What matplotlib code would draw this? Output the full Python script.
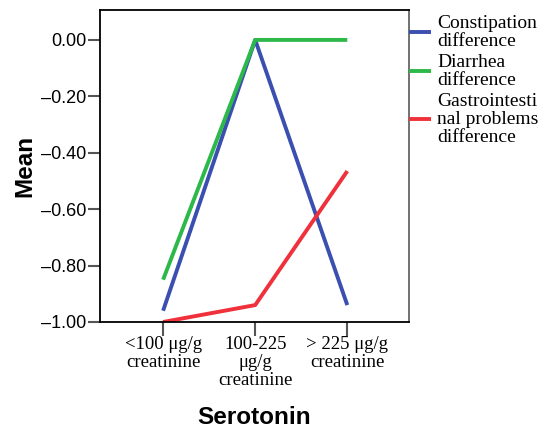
import matplotlib

matplotlib.use("Agg")
import matplotlib.pyplot as plt

categories = ["<100 \u03bcg/g\ncreatinine", "100-225\n\u03bcg/g\ncreatinine", "> 225 \u03bcg/g\ncreatinine"]
constipation = [-0.96, 0.0, -0.94]
diarrhea = [-0.85, 0.0, 0.0]
gi_problems = [-1.0, -0.94, -0.465]
series_names = ["Constipation\ndifference", "Diarrhea\ndifference", "Gastrointesti\nnal problems\ndifference"]
colors = ["#3a4fb0", "#2db84a", "#f0303a"]
yticks = [0.0, -0.2, -0.4, -0.6, -0.8, -1.0]

fig = plt.figure(figsize=(5.5, 4.38), dpi=100)
ax = fig.add_axes([100 / 550, 1 - 322 / 438, 309 / 550, 312 / 438])

x = range(len(categories))
for vals, name, c in zip([constipation, diarrhea, gi_problems], series_names, colors):
    ax.plot(x, vals, color=c, linewidth=2.8, label=name, solid_capstyle="butt")

ax.set_xlim(-0.685, 2.67)
ax.set_ylim(-1.0, 0.106)
ax.set_yticks(yticks)
ax.set_yticklabels([f"{v:.2f}".replace("-", "\u2013") for v in yticks],
                   family="Liberation Sans", fontsize=13)
ax.set_xticks(list(x))
ax.set_xticklabels(categories, family="Liberation Serif", fontsize=13.5, linespacing=1.08)
ax.tick_params(axis="y", length=9, width=1.5, color="#555555", pad=1)
ax.tick_params(axis="x", length=10, width=1.5, color="#555555", pad=0)
for side in ["left", "bottom", "top"]:
    ax.spines[side].set_linewidth(1.3)
ax.spines["right"].set_linewidth(1.3)
ax.spines["right"].set_color("#666666")

ax.set_ylabel("Mean", family="Liberation Sans", fontsize=17.5, fontweight="bold", labelpad=3)
ax.set_xlabel("Serotonin", family="Liberation Sans", fontsize=17.5, fontweight="bold", labelpad=12)

leg = ax.legend(loc="upper left", bbox_to_anchor=(1.0, 0.985), frameon=False,
                prop={"family": "Liberation Serif", "size": 14}, handlelength=1.15,
                handletextpad=0.3, labelspacing=0.2, borderaxespad=0, borderpad=0)
for t in leg.get_texts():
    t.set_linespacing(1.08)

fig.savefig("out.png", dpi=100)
